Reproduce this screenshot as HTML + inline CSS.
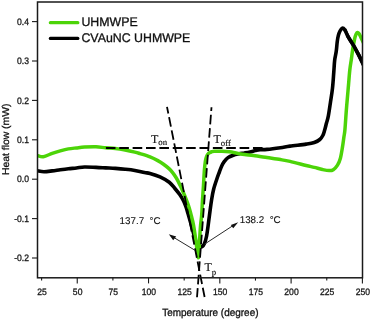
<!DOCTYPE html>
<html><head><meta charset="utf-8"><style>
html,body{margin:0;padding:0;background:#fff;}
body{width:371px;height:320px;overflow:hidden;}
svg{display:block;text-rendering:geometricPrecision;}
.tk{font-family:"Liberation Sans",Arial,sans-serif;font-size:9.4px;fill:#1a1a1a;}
.lg{font-family:"Liberation Sans",Arial,sans-serif;font-size:12.55px;fill:#111;}
.ax{font-family:"Liberation Sans",Arial,sans-serif;font-size:10.6px;fill:#111;}
.ay{font-family:"Liberation Sans",Arial,sans-serif;font-size:9.9px;fill:#111;}
.an{font-family:"Liberation Sans",Arial,sans-serif;font-size:9.8px;fill:#111;}
.tl{font-family:"Liberation Serif","Times New Roman",serif;font-size:12px;fill:#111;}
.sb{font-size:8.8px;}
text{stroke:#111;stroke-width:0.3px;}
.an{stroke-width:0.1px;}
.tl{stroke-width:0.15px;}
</style></head><body>
<svg width="371" height="320" viewBox="0 0 371 320">
<clipPath id="pa"><rect x="37.5" y="2" width="324.8" height="276"/></clipPath>
<g clip-path="url(#pa)">
<path d="M37.40,170.90 C38.50,171.03 41.53,171.70 44.00,171.70 C46.47,171.70 49.48,171.22 52.20,170.90 C54.92,170.58 57.60,170.15 60.30,169.80 C63.00,169.45 65.70,169.10 68.40,168.80 C71.10,168.50 73.82,168.30 76.50,168.00 C79.18,167.70 81.25,167.10 84.50,167.00 C87.75,166.90 92.47,167.25 96.00,167.40 C99.53,167.55 102.47,167.73 105.70,167.90 C108.93,168.07 112.17,168.18 115.40,168.40 C118.63,168.62 121.87,168.87 125.10,169.20 C128.33,169.53 131.57,169.85 134.80,170.40 C138.03,170.95 141.97,172.00 144.50,172.50 C147.03,173.00 147.42,172.67 150.00,173.40 C152.58,174.13 156.79,175.43 160.00,176.90 C163.21,178.38 166.77,180.32 169.25,182.25 C171.73,184.18 173.12,186.42 174.90,188.50 C176.68,190.58 178.45,192.67 179.90,194.75 C181.35,196.83 182.57,198.92 183.60,201.00 C184.63,203.08 185.37,205.17 186.10,207.25 C186.83,209.33 187.13,210.54 188.00,213.50 C188.87,216.46 190.02,220.42 191.30,225.00 C192.58,229.58 194.50,237.45 195.70,241.00 C196.90,244.55 197.42,245.38 198.50,246.30 C199.58,247.22 201.22,246.95 202.20,246.50 C203.18,246.05 203.67,245.35 204.40,243.60 C205.13,241.85 205.97,239.10 206.60,236.00 C207.23,232.90 207.72,228.50 208.20,225.00 C208.68,221.50 208.93,219.22 209.50,215.00 C210.07,210.78 210.89,204.07 211.60,199.70 C212.31,195.33 212.81,192.45 213.75,188.80 C214.69,185.15 216.31,180.60 217.25,177.80 C218.19,175.00 218.68,173.93 219.40,172.00 C220.12,170.07 220.80,167.93 221.60,166.20 C222.40,164.47 223.13,163.03 224.20,161.60 C225.27,160.17 226.48,158.67 228.00,157.60 C229.52,156.53 231.53,155.82 233.30,155.20 C235.07,154.58 236.72,154.28 238.60,153.90 C240.48,153.52 242.70,153.23 244.60,152.90 C246.50,152.57 248.20,152.28 250.00,151.90 C251.80,151.52 253.73,150.97 255.40,150.60 C257.07,150.23 258.07,149.90 260.00,149.70 C261.93,149.50 263.60,149.73 267.00,149.40 C270.40,149.07 276.57,148.25 280.40,147.70 C284.23,147.15 285.70,146.70 290.00,146.10 C294.30,145.50 302.15,144.70 306.20,144.10 C310.25,143.50 312.03,143.27 314.30,142.50 C316.57,141.73 318.38,140.67 319.80,139.50 C321.22,138.33 322.00,137.03 322.80,135.50 C323.60,133.97 323.98,132.38 324.60,130.30 C325.22,128.22 325.88,125.35 326.50,123.00 C327.12,120.65 327.63,119.70 328.30,116.20 C328.97,112.70 329.80,106.68 330.50,102.00 C331.20,97.32 331.95,93.10 332.50,88.10 C333.05,83.10 333.43,76.68 333.80,72.00 C334.17,67.32 334.29,63.46 334.70,60.00 C335.11,56.54 335.83,54.25 336.25,51.25 C336.67,48.25 336.86,44.61 337.20,42.00 C337.54,39.39 337.83,37.43 338.30,35.60 C338.77,33.77 339.35,32.23 340.00,31.00 C340.65,29.77 341.43,28.43 342.20,28.20 C342.97,27.97 343.72,28.37 344.60,29.60 C345.48,30.83 346.50,33.73 347.50,35.60 C348.50,37.47 349.56,39.10 350.60,40.80 C351.64,42.50 352.45,43.53 353.75,45.80 C355.05,48.07 357.09,51.87 358.40,54.40 C359.71,56.93 360.67,59.07 361.60,61.00 C362.53,62.93 363.60,65.17 364.00,66.00" fill="none" stroke="#000" stroke-width="3.6" stroke-linejoin="round" stroke-linecap="round"/>
<path d="M37.40,155.40 C38.38,155.62 40.83,157.03 43.30,156.70 C45.77,156.37 49.37,154.37 52.20,153.40 C55.03,152.43 57.60,151.65 60.30,150.90 C63.00,150.15 65.70,149.40 68.40,148.90 C71.10,148.40 73.82,148.20 76.50,147.90 C79.18,147.60 81.25,147.28 84.50,147.10 C87.75,146.92 92.47,146.68 96.00,146.80 C99.53,146.92 102.47,147.52 105.70,147.80 C108.93,148.08 112.17,148.13 115.40,148.50 C118.63,148.87 121.87,149.40 125.10,150.00 C128.33,150.60 132.32,151.50 134.80,152.10 C137.28,152.70 137.47,152.80 140.00,153.60 C142.53,154.40 147.03,155.73 150.00,156.90 C152.97,158.07 155.55,159.38 157.80,160.60 C160.05,161.82 161.63,162.87 163.50,164.20 C165.37,165.53 167.48,167.20 169.00,168.60 C170.52,170.00 171.48,171.20 172.60,172.60 C173.72,174.00 174.75,175.50 175.70,177.00 C176.65,178.50 177.47,180.00 178.30,181.60 C179.13,183.20 179.88,184.83 180.70,186.60 C181.52,188.37 182.38,190.33 183.20,192.20 C184.02,194.07 184.87,196.00 185.60,197.80 C186.33,199.60 186.99,201.32 187.60,203.00 C188.21,204.68 188.72,206.15 189.25,207.90 C189.78,209.65 190.04,210.65 190.75,213.50 C191.46,216.35 192.66,220.58 193.50,225.00 C194.34,229.42 195.08,234.87 195.80,240.00 C196.52,245.13 197.30,253.17 197.80,255.80 C198.30,258.43 198.50,258.43 198.80,255.80 C199.10,253.17 199.30,245.13 199.60,240.00 C199.90,234.87 200.25,229.17 200.60,225.00 C200.95,220.83 201.38,219.17 201.70,215.00 C202.02,210.83 202.20,205.00 202.50,200.00 C202.80,195.00 203.18,190.00 203.50,185.00 C203.82,180.00 204.08,174.00 204.40,170.00 C204.72,166.00 205.08,163.13 205.40,161.00 C205.72,158.87 205.93,158.27 206.30,157.20 C206.67,156.13 207.08,155.33 207.60,154.60 C208.12,153.87 208.70,153.28 209.40,152.80 C210.10,152.32 210.95,151.95 211.80,151.70 C212.65,151.45 212.80,151.38 214.50,151.30 C216.20,151.22 219.50,151.12 222.00,151.20 C224.50,151.28 226.98,151.47 229.50,151.80 C232.02,152.13 234.58,152.73 237.10,153.20 C239.62,153.67 241.87,154.20 244.60,154.60 C247.33,155.00 249.77,155.10 253.50,155.60 C257.23,156.10 262.52,156.93 267.00,157.60 C271.48,158.27 276.57,158.97 280.40,159.60 C284.23,160.23 285.70,160.42 290.00,161.40 C294.30,162.38 302.15,164.50 306.20,165.50 C310.25,166.50 311.60,166.73 314.30,167.40 C317.00,168.07 319.93,168.97 322.40,169.50 C324.87,170.03 327.28,170.57 329.10,170.60 C330.92,170.63 331.90,170.60 333.30,169.70 C334.70,168.80 336.32,167.12 337.50,165.20 C338.68,163.28 339.57,161.25 340.40,158.20 C341.23,155.15 341.92,150.43 342.50,146.90 C343.08,143.37 343.50,139.82 343.90,137.00 C344.30,134.18 344.52,134.17 344.90,130.00 C345.28,125.83 345.82,117.00 346.20,112.00 C346.58,107.00 346.82,104.50 347.20,100.00 C347.58,95.50 348.07,90.00 348.50,85.00 C348.93,80.00 349.32,74.33 349.80,70.00 C350.28,65.67 350.93,62.33 351.40,59.00 C351.87,55.67 352.21,52.60 352.60,50.00 C352.99,47.40 353.32,45.63 353.75,43.40 C354.18,41.17 354.68,38.38 355.20,36.60 C355.72,34.82 356.30,33.25 356.90,32.70 C357.50,32.15 358.15,32.55 358.80,33.30 C359.45,34.05 360.02,35.58 360.80,37.20 C361.58,38.82 363.05,42.03 363.50,43.00" fill="none" stroke="#4cd408" stroke-width="3.5" stroke-linejoin="round" stroke-linecap="round"/>
<clipPath id="ct"><rect x="346" y="0" width="30" height="100"/></clipPath>
<path clip-path="url(#ct)" d="M37.40,170.90 C38.50,171.03 41.53,171.70 44.00,171.70 C46.47,171.70 49.48,171.22 52.20,170.90 C54.92,170.58 57.60,170.15 60.30,169.80 C63.00,169.45 65.70,169.10 68.40,168.80 C71.10,168.50 73.82,168.30 76.50,168.00 C79.18,167.70 81.25,167.10 84.50,167.00 C87.75,166.90 92.47,167.25 96.00,167.40 C99.53,167.55 102.47,167.73 105.70,167.90 C108.93,168.07 112.17,168.18 115.40,168.40 C118.63,168.62 121.87,168.87 125.10,169.20 C128.33,169.53 131.57,169.85 134.80,170.40 C138.03,170.95 141.97,172.00 144.50,172.50 C147.03,173.00 147.42,172.67 150.00,173.40 C152.58,174.13 156.79,175.43 160.00,176.90 C163.21,178.38 166.77,180.32 169.25,182.25 C171.73,184.18 173.12,186.42 174.90,188.50 C176.68,190.58 178.45,192.67 179.90,194.75 C181.35,196.83 182.57,198.92 183.60,201.00 C184.63,203.08 185.37,205.17 186.10,207.25 C186.83,209.33 187.13,210.54 188.00,213.50 C188.87,216.46 190.02,220.42 191.30,225.00 C192.58,229.58 194.50,237.45 195.70,241.00 C196.90,244.55 197.42,245.38 198.50,246.30 C199.58,247.22 201.22,246.95 202.20,246.50 C203.18,246.05 203.67,245.35 204.40,243.60 C205.13,241.85 205.97,239.10 206.60,236.00 C207.23,232.90 207.72,228.50 208.20,225.00 C208.68,221.50 208.93,219.22 209.50,215.00 C210.07,210.78 210.89,204.07 211.60,199.70 C212.31,195.33 212.81,192.45 213.75,188.80 C214.69,185.15 216.31,180.60 217.25,177.80 C218.19,175.00 218.68,173.93 219.40,172.00 C220.12,170.07 220.80,167.93 221.60,166.20 C222.40,164.47 223.13,163.03 224.20,161.60 C225.27,160.17 226.48,158.67 228.00,157.60 C229.52,156.53 231.53,155.82 233.30,155.20 C235.07,154.58 236.72,154.28 238.60,153.90 C240.48,153.52 242.70,153.23 244.60,152.90 C246.50,152.57 248.20,152.28 250.00,151.90 C251.80,151.52 253.73,150.97 255.40,150.60 C257.07,150.23 258.07,149.90 260.00,149.70 C261.93,149.50 263.60,149.73 267.00,149.40 C270.40,149.07 276.57,148.25 280.40,147.70 C284.23,147.15 285.70,146.70 290.00,146.10 C294.30,145.50 302.15,144.70 306.20,144.10 C310.25,143.50 312.03,143.27 314.30,142.50 C316.57,141.73 318.38,140.67 319.80,139.50 C321.22,138.33 322.00,137.03 322.80,135.50 C323.60,133.97 323.98,132.38 324.60,130.30 C325.22,128.22 325.88,125.35 326.50,123.00 C327.12,120.65 327.63,119.70 328.30,116.20 C328.97,112.70 329.80,106.68 330.50,102.00 C331.20,97.32 331.95,93.10 332.50,88.10 C333.05,83.10 333.43,76.68 333.80,72.00 C334.17,67.32 334.29,63.46 334.70,60.00 C335.11,56.54 335.83,54.25 336.25,51.25 C336.67,48.25 336.86,44.61 337.20,42.00 C337.54,39.39 337.83,37.43 338.30,35.60 C338.77,33.77 339.35,32.23 340.00,31.00 C340.65,29.77 341.43,28.43 342.20,28.20 C342.97,27.97 343.72,28.37 344.60,29.60 C345.48,30.83 346.50,33.73 347.50,35.60 C348.50,37.47 349.56,39.10 350.60,40.80 C351.64,42.50 352.45,43.53 353.75,45.80 C355.05,48.07 357.09,51.87 358.40,54.40 C359.71,56.93 360.67,59.07 361.60,61.00 C362.53,62.93 363.60,65.17 364.00,66.00" fill="none" stroke="#000" stroke-width="3.6" stroke-linejoin="round" stroke-linecap="round"/>
</g>
<line x1="105.9" y1="148" x2="263" y2="148" stroke="#000" stroke-width="1.8" stroke-dasharray="9.6 3.77" fill="none"/>
<line x1="167" y1="106.8" x2="204.6" y2="297" stroke-dashoffset="2.77" stroke="#000" stroke-width="1.8" stroke-dasharray="9.6 3.77" fill="none"/>
<line x1="211.5" y1="107.2" x2="197.0" y2="297.2" stroke-dashoffset="5.78" stroke="#000" stroke-width="1.8" stroke-dasharray="9.6 3.77" fill="none"/>
<line x1="195" y1="250.3" x2="173" y2="237" stroke="#2a2a2a" stroke-width="1"/>
<polygon points="168.8,234.2 176.2,236.4 173.2,240.2" fill="#111"/>
<line x1="204.5" y1="244.2" x2="233" y2="225.6" stroke="#2a2a2a" stroke-width="1"/>
<polygon points="238.2,222.2 233.2,228.2 230.8,224.9" fill="#111"/>
<rect x="37.5" y="2.0" width="325.0" height="275.8" fill="none" stroke="#1a1a1a" stroke-width="1.5"/>
<line x1="32" y1="21.60" x2="37.5" y2="21.60" stroke="#1a1a1a" stroke-width="1.1"/><text transform="translate(29.00,24.70) scale(0.915,1)" text-anchor="end" class="tk">0.4</text><line x1="32" y1="61.00" x2="37.5" y2="61.00" stroke="#1a1a1a" stroke-width="1.1"/><text transform="translate(29.00,64.10) scale(0.915,1)" text-anchor="end" class="tk">0.3</text><line x1="32" y1="100.40" x2="37.5" y2="100.40" stroke="#1a1a1a" stroke-width="1.1"/><text transform="translate(29.00,103.50) scale(0.915,1)" text-anchor="end" class="tk">0.2</text><line x1="32" y1="139.80" x2="37.5" y2="139.80" stroke="#1a1a1a" stroke-width="1.1"/><text transform="translate(29.00,142.90) scale(0.915,1)" text-anchor="end" class="tk">0.1</text><line x1="32" y1="179.20" x2="37.5" y2="179.20" stroke="#1a1a1a" stroke-width="1.1"/><text transform="translate(29.00,182.30) scale(0.915,1)" text-anchor="end" class="tk">0.0</text><line x1="32" y1="218.60" x2="37.5" y2="218.60" stroke="#1a1a1a" stroke-width="1.1"/><text transform="translate(29.00,221.70) scale(0.915,1)" text-anchor="end" class="tk">-0.1</text><line x1="32" y1="258.00" x2="37.5" y2="258.00" stroke="#1a1a1a" stroke-width="1.1"/><text transform="translate(29.00,261.10) scale(0.915,1)" text-anchor="end" class="tk">-0.2</text><line x1="41.60" y1="277.8" x2="41.60" y2="280.6" stroke="#1a1a1a" stroke-width="1.1"/><text transform="translate(42.00,294.60) scale(0.915,1)" text-anchor="middle" class="tk">25</text><line x1="77.24" y1="277.8" x2="77.24" y2="283.4" stroke="#1a1a1a" stroke-width="1.1"/><text transform="translate(77.64,294.60) scale(0.915,1)" text-anchor="middle" class="tk">50</text><line x1="112.89" y1="277.8" x2="112.89" y2="280.6" stroke="#1a1a1a" stroke-width="1.1"/><text transform="translate(113.29,294.60) scale(0.915,1)" text-anchor="middle" class="tk">75</text><line x1="148.53" y1="277.8" x2="148.53" y2="283.4" stroke="#1a1a1a" stroke-width="1.1"/><text transform="translate(148.93,294.60) scale(0.915,1)" text-anchor="middle" class="tk">100</text><line x1="184.18" y1="277.8" x2="184.18" y2="280.6" stroke="#1a1a1a" stroke-width="1.1"/><text transform="translate(184.58,294.60) scale(0.915,1)" text-anchor="middle" class="tk">125</text><line x1="219.82" y1="277.8" x2="219.82" y2="283.4" stroke="#1a1a1a" stroke-width="1.1"/><text transform="translate(220.22,294.60) scale(0.915,1)" text-anchor="middle" class="tk">150</text><line x1="255.47" y1="277.8" x2="255.47" y2="280.6" stroke="#1a1a1a" stroke-width="1.1"/><text transform="translate(255.87,294.60) scale(0.915,1)" text-anchor="middle" class="tk">175</text><line x1="291.11" y1="277.8" x2="291.11" y2="283.4" stroke="#1a1a1a" stroke-width="1.1"/><text transform="translate(291.51,294.60) scale(0.915,1)" text-anchor="middle" class="tk">200</text><line x1="326.76" y1="277.8" x2="326.76" y2="280.6" stroke="#1a1a1a" stroke-width="1.1"/><text transform="translate(327.16,294.60) scale(0.915,1)" text-anchor="middle" class="tk">225</text><line x1="362.40" y1="277.8" x2="362.40" y2="283.4" stroke="#1a1a1a" stroke-width="1.1"/><text transform="translate(362.80,294.60) scale(0.915,1)" text-anchor="middle" class="tk">250</text>
<line x1="50.4" y1="22.7" x2="77.8" y2="22.7" stroke="#4cd408" stroke-width="3.3" stroke-linecap="round"/>
<line x1="50.4" y1="38.4" x2="77.8" y2="38.4" stroke="#000" stroke-width="3.3" stroke-linecap="round"/>
<text transform="translate(81.40,26.40) scale(0.985,1)" text-anchor="start" class="lg">UHMWPE</text>
<text transform="translate(81.40,42.00) scale(0.985,1)" text-anchor="start" class="lg">CVAuNC UHMWPE</text>
<text transform="translate(162.20,316.30) scale(0.940,1)" text-anchor="start" class="ax">Temperature (degree)</text>
<text transform="translate(9.20,175.00) rotate(-90) scale(1.050,1)" class="ay">Heat flow (mW)</text>
<text transform="translate(119.60,223.90) scale(1.000,1)" text-anchor="start" class="an">137.7&#160;&#160;°C</text>
<text transform="translate(239.70,223.10) scale(1.000,1)" text-anchor="start" class="an">138.2&#160;&#160;°C</text>
<text x="151.00" y="142.50" class="tl">T<tspan class="sb" dy="2.80">on</tspan></text>
<text x="213.40" y="143.30" class="tl">T<tspan class="sb" dy="2.80">off</tspan></text>
<text x="204.40" y="271.30" class="tl">T<tspan class="sb" dy="3.60">p</tspan></text>
</svg>
</body></html>
